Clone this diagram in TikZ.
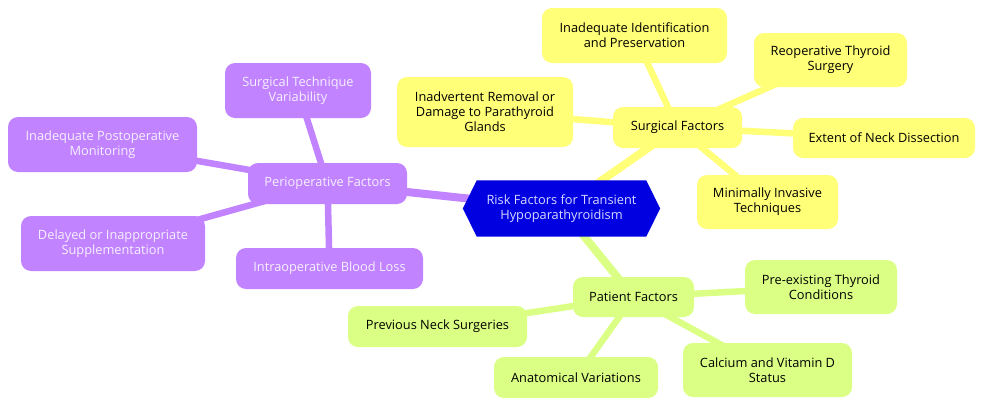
\documentclass[tikz,border=0pt]{standalone}
\usepackage{fontspec}
\setmainfont{Open Sans}
\usetikzlibrary{backgrounds,calc}
\definecolor{sy}{HTML}{FFFF78}
\definecolor{pg}{HTML}{DBFF85}
\definecolor{pp}{HTML}{C183FF}
\definecolor{rb}{HTML}{0000E0}
\definecolor{rt}{HTML}{D8D8FF}
\definecolor{pt}{HTML}{F6F0FF}
\tikzset{
  box/.style={rounded corners=10pt, align=center, inner sep=0pt, font=\fontsize{12.8}{15}\selectfont},
  surg/.style={box, fill=sy, text=black},
  pat/.style={box, fill=pg, text=black},
  peri/.style={box, fill=pp, text=pt},
  mainedge/.style={line width=8pt},
  leafedge/.style={line width=6.5pt},
}
\begin{document}
\begin{tikzpicture}[x=1pt,y=-1pt]
\path[use as bounding box] (0,0) rectangle (986,407);

\node[align=center, inner sep=0pt, minimum width=197pt, minimum height=56pt, text=rt, font=\fontsize{12.8}{15}\selectfont] (root) at (561.5,208.5) {Risk Factors for Transient\\Hypoparathyroidism};

% Surgical branch
\node[surg, minimum width=129pt, minimum height=41pt] (sf) at (677.5,127.5) {Surgical Factors};
\node[surg, minimum width=185pt, minimum height=55pt] (s1) at (634.5,35.5) {Inadequate Identification\\and Preservation};
\node[surg, minimum width=176pt, minimum height=70pt] (s2) at (485,112) {Inadvertent Removal or\\Damage to Parathyroid\\Glands};
\node[surg, minimum width=153pt, minimum height=54pt] (s3) at (830.5,60) {Reoperative Thyroid\\Surgery};
\node[surg, minimum width=182pt, minimum height=40pt] (s4) at (884,138) {Extent of Neck Dissection};
\node[surg, minimum width=141pt, minimum height=54pt] (s5) at (767.5,202) {Minimally Invasive\\Techniques};

% Perioperative branch
\node[peri, minimum width=159pt, minimum height=41pt] (pf) at (327.5,183.5) {Perioperative Factors};
\node[peri, minimum width=146pt, minimum height=55pt] (p1) at (298,90.5) {Surgical Technique\\Variability};
\node[peri, minimum width=189pt, minimum height=55pt] (p2) at (102.5,144.5) {Inadequate Postoperative\\Monitoring};
\node[peri, minimum width=184pt, minimum height=55pt] (p3) at (113,243.5) {Delayed or Inappropriate\\Supplementation};
\node[peri, minimum width=187pt, minimum height=41pt] (p4) at (329.5,268.5) {Intraoperative Blood Loss};

% Patient branch
\node[pat, minimum width=121pt, minimum height=40pt] (af) at (633.5,297) {Patient Factors};
\node[pat, minimum width=152pt, minimum height=54pt] (a1) at (821,287) {Pre-existing Thyroid\\Conditions};
\node[pat, minimum width=179pt, minimum height=41pt] (a2) at (437.5,326.5) {Previous Neck Surgeries};
\node[pat, minimum width=164pt, minimum height=41pt] (a3) at (576,377.5) {Anatomical Variations};
\node[pat, minimum width=169pt, minimum height=54pt] (a4) at (767.5,370) {Calcium and Vitamin D\\Status};

\begin{scope}[on background layer]
  \draw[mainedge, sy] (root.center) -- (sf.center);
  \draw[mainedge, pp] (root.center) -- (pf.center);
  \draw[mainedge, pg] (root.center) -- (af.center);
  \foreach \n in {s1,s2,s3,s4,s5} \draw[leafedge, sy] (sf.center) -- (\n.center);
  \foreach \n in {p1,p2,p3,p4} \draw[leafedge, pp] (pf.center) -- (\n.center);
  \foreach \n in {a1,a2,a3,a4} \draw[leafedge, pg] (af.center) -- (\n.center);
  \fill[rb] (root.west) -- ($(root.north west)+(14,0)$) -- ($(root.north east)+(-14,0)$) -- (root.east) -- ($(root.south east)+(-14,0)$) -- ($(root.south west)+(14,0)$) -- cycle;
\end{scope}
\end{tikzpicture}
\end{document}
